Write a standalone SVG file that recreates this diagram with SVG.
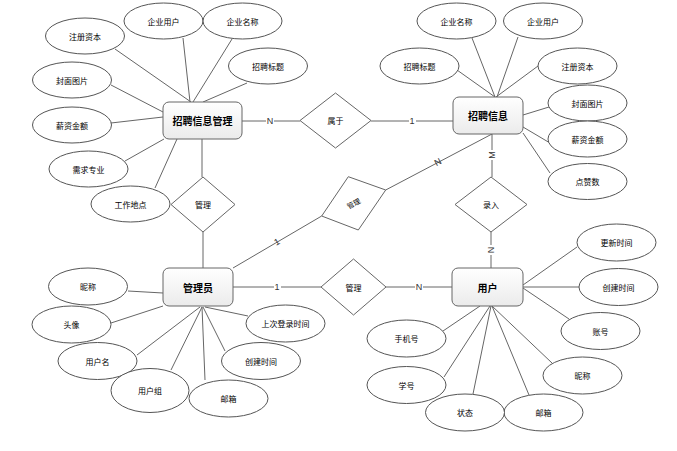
<svg xmlns="http://www.w3.org/2000/svg" width="677" height="451" viewBox="0 0 677 451">
<defs>
<linearGradient id="g" x1="0" y1="0" x2="0" y2="1">
<stop offset="0" stop-color="#ffffff"/>
<stop offset="1" stop-color="#ebebeb"/>
</linearGradient>
<style>
.e{fill:#fff;stroke:#555;stroke-width:1}
.r{fill:url(#g);stroke:#666;stroke-width:1}
.d{fill:#fff;stroke:#666;stroke-width:1}
.c line{stroke:#666;stroke-width:1}
.t{font-family:"Noto Sans CJK SC","Noto Sans",sans-serif;font-size:8px;fill:#000;text-anchor:middle;dominant-baseline:central}
.tb{font-family:"Noto Sans CJK SC","Noto Sans",sans-serif;font-size:10px;font-weight:bold;fill:#000;text-anchor:middle;dominant-baseline:central}
.l{font-family:"Liberation Sans",Arial,sans-serif;font-size:9px;fill:#333;text-anchor:middle;dominant-baseline:central}
.lb{fill:#fff}
</style>
</defs>
<rect width="677" height="451" fill="#fff"/>

<g id="connectors" class="c">
<!-- 招聘信息管理 attrs -->
<line x1="115" y1="49" x2="191" y2="102"/>
<line x1="183" y1="38" x2="190" y2="102"/>
<line x1="232" y1="39" x2="193" y2="102"/>
<line x1="247" y1="83" x2="203" y2="102"/>
<line x1="111" y1="85" x2="163" y2="112"/>
<line x1="111" y1="123" x2="163" y2="117"/>
<line x1="125" y1="161" x2="164" y2="139"/>
<line x1="155" y1="188" x2="177" y2="139"/>
<line x1="202" y1="139" x2="202" y2="177"/>
<line x1="203" y1="232" x2="203" y2="268"/>
<line x1="242" y1="121" x2="300" y2="121"/>
<line x1="371" y1="121" x2="453" y2="121"/>
<!-- 招聘信息 attrs -->
<line x1="457" y1="70" x2="495" y2="97"/>
<line x1="472" y1="38" x2="495" y2="97"/>
<line x1="518" y1="37" x2="497" y2="97"/>
<line x1="538" y1="66" x2="496" y2="97"/>
<line x1="523" y1="115" x2="549" y2="107"/>
<line x1="523" y1="127" x2="550" y2="143"/>
<line x1="523" y1="133" x2="550" y2="173"/>
<line x1="492" y1="134" x2="492" y2="177"/>
<line x1="491" y1="232" x2="491" y2="268"/>
<line x1="492" y1="134" x2="385.7" y2="190"/>
<line x1="321.7" y1="216" x2="233" y2="268"/>
<!-- 管理员 attrs -->
<line x1="233" y1="287" x2="321" y2="287"/>
<line x1="386" y1="287" x2="452" y2="287"/>
<line x1="128" y1="291" x2="163" y2="293"/>
<line x1="111" y1="323" x2="163" y2="306"/>
<line x1="137" y1="355" x2="200" y2="307"/>
<line x1="171" y1="370" x2="202" y2="307"/>
<line x1="205" y1="380" x2="202" y2="307"/>
<line x1="225" y1="351" x2="203" y2="307"/>
<line x1="248" y1="316" x2="205" y2="307"/>
<!-- 用户 attrs -->
<line x1="577" y1="247" x2="523" y2="285"/>
<line x1="579" y1="287" x2="523" y2="287"/>
<line x1="569" y1="319" x2="523" y2="288"/>
<line x1="552" y1="363" x2="492" y2="306"/>
<line x1="529" y1="395" x2="492" y2="306"/>
<line x1="473" y1="394" x2="491" y2="306"/>
<line x1="444" y1="377" x2="490" y2="306"/>
<line x1="443" y1="331" x2="480" y2="306"/>
<!-- labels -->
<rect class="lb" x="266" y="115" width="8" height="11"/>
<text class="l" x="270" y="120.5">N</text>
<rect class="lb" x="409" y="115" width="7" height="11"/>
<text class="l" x="412" y="121">1</text>
<rect class="lb" x="487" y="150" width="10" height="10"/>
<text class="l" transform="translate(492 155) rotate(-90)">M</text>
<rect class="lb" x="486" y="245" width="10" height="10"/>
<text class="l" transform="translate(491 250) rotate(-90)">N</text>
<text class="l" transform="translate(438 162) rotate(-29)">N</text>
<text class="l" transform="translate(277 242) rotate(-30)">1</text>
<rect class="lb" x="274" y="281" width="7" height="11"/>
<text class="l" x="277" y="287">1</text>
<rect class="lb" x="415" y="281" width="8" height="11"/>
<text class="l" x="419" y="287">N</text>
</g>

<!-- entities -->
<g id="zpxxgl"><rect class="r" x="163" y="102" width="79" height="37" rx="6"/><text class="tb" x="202.5" y="120.5">招聘信息管理</text></g>
<g id="zpxx"><rect class="r" x="453" y="97" width="70" height="37" rx="6"/><text class="tb" x="488" y="115.5">招聘信息</text></g>
<g id="gly"><rect class="r" x="163" y="268" width="70" height="38" rx="6"/><text class="tb" x="198" y="287">管理员</text></g>
<g id="yh"><rect class="r" x="452" y="268" width="71" height="38" rx="6"/><text class="tb" x="487.5" y="287">用户</text></g>

<!-- relationships -->
<g id="rel-shuyu"><polygon class="d" points="300,120.5 335.5,93 371,120.5 335.5,148"/><text class="t" x="335.5" y="120.5">属于</text></g>
<g id="rel-guanli1"><polygon class="d" points="171,204.5 203,177 235,204.5 203,232"/><text class="t" x="203" y="204.5">管理</text></g>
<g id="rel-luru"><polygon class="d" points="455,204.5 491,177 527,204.5 491,232"/><text class="t" x="491" y="204.5">录入</text></g>
<g id="rel-guanli2"><polygon class="d" points="348.3,176.7 385.7,190 358.3,230 321.7,216"/><text class="t" style="font-size:7px" transform="translate(353.5 203.3) rotate(-29)">管理</text></g>
<g id="rel-guanli3"><polygon class="d" points="321,287 353.5,259 386,287 353.5,315"/><text class="t" x="353.5" y="287">管理</text></g>

<!-- 招聘信息管理 attributes -->
<g id="a1"><ellipse class="e" cx="85" cy="36" rx="39.5" ry="18"/><text class="t" x="85" y="36">注册资本</text></g>
<g id="a2"><ellipse class="e" cx="163.5" cy="21" rx="39.5" ry="18"/><text class="t" x="163.5" y="21">企业用户</text></g>
<g id="a3"><ellipse class="e" cx="242.5" cy="21" rx="39.5" ry="18"/><text class="t" x="242.5" y="21">企业名称</text></g>
<g id="a4"><ellipse class="e" cx="268" cy="66" rx="39.5" ry="18"/><text class="t" x="268" y="66">招聘标题</text></g>
<g id="a5"><ellipse class="e" cx="72" cy="80" rx="39.5" ry="18"/><text class="t" x="72" y="80">封面图片</text></g>
<g id="a6"><ellipse class="e" cx="72" cy="125" rx="39.5" ry="18"/><text class="t" x="72" y="125">薪资金额</text></g>
<g id="a7"><ellipse class="e" cx="88.5" cy="169" rx="39.5" ry="18"/><text class="t" x="88.5" y="169">需求专业</text></g>
<g id="a8"><ellipse class="e" cx="130.5" cy="204" rx="39.5" ry="18"/><text class="t" x="130.5" y="204">工作地点</text></g>

<!-- 招聘信息 attributes -->
<g id="b1"><ellipse class="e" cx="456.5" cy="21" rx="39.5" ry="18"/><text class="t" x="456.5" y="21">企业名称</text></g>
<g id="b2"><ellipse class="e" cx="543" cy="21" rx="39.5" ry="18"/><text class="t" x="543" y="21">企业用户</text></g>
<g id="b3"><ellipse class="e" cx="419.5" cy="66" rx="39.5" ry="18"/><text class="t" x="419.5" y="66">招聘标题</text></g>
<g id="b4"><ellipse class="e" cx="577.5" cy="66" rx="39.5" ry="18"/><text class="t" x="577.5" y="66">注册资本</text></g>
<g id="b5"><ellipse class="e" cx="587.5" cy="103" rx="39.5" ry="18"/><text class="t" x="587.5" y="103">封面图片</text></g>
<g id="b6"><ellipse class="e" cx="587.5" cy="139" rx="39.5" ry="18"/><text class="t" x="587.5" y="139">薪资金额</text></g>
<g id="b7"><ellipse class="e" cx="587.5" cy="181.5" rx="39.5" ry="18"/><text class="t" x="587.5" y="181.5">点赞数</text></g>

<!-- 管理员 attributes -->
<g id="c1"><ellipse class="e" cx="88" cy="286.5" rx="39.5" ry="18.5"/><text class="t" x="88" y="286.5">昵称</text></g>
<g id="c2"><ellipse class="e" cx="71.5" cy="324.5" rx="39.5" ry="18.5"/><text class="t" x="71.5" y="324.5">头像</text></g>
<g id="c3"><ellipse class="e" cx="97.5" cy="361" rx="39.5" ry="18.5"/><text class="t" x="97.5" y="361">用户名</text></g>
<g id="c4"><ellipse class="e" cx="150" cy="390.5" rx="39" ry="22"/><text class="t" x="150" y="390.5">用户组</text></g>
<g id="c5"><ellipse class="e" cx="228.5" cy="398.5" rx="39.5" ry="18.5"/><text class="t" x="228.5" y="398.5">邮箱</text></g>
<g id="c6"><ellipse class="e" cx="261" cy="361" rx="39.5" ry="18.5"/><text class="t" x="261" y="361">创建时间</text></g>
<g id="c7"><ellipse class="e" cx="285.5" cy="323.5" rx="39.5" ry="18.5"/><text class="t" x="285.5" y="323.5">上次登录时间</text></g>

<!-- 用户 attributes -->
<g id="d1"><ellipse class="e" cx="616.5" cy="242.5" rx="39.5" ry="18.5"/><text class="t" x="616.5" y="242.5">更新时间</text></g>
<g id="d2"><ellipse class="e" cx="618.5" cy="287" rx="39.5" ry="18.5"/><text class="t" x="618.5" y="287">创建时间</text></g>
<g id="d3"><ellipse class="e" cx="600.5" cy="331" rx="39.5" ry="18.5"/><text class="t" x="600.5" y="331">账号</text></g>
<g id="d4"><ellipse class="e" cx="582.5" cy="375.5" rx="39.5" ry="18.5"/><text class="t" x="582.5" y="375.5">昵称</text></g>
<g id="d5"><ellipse class="e" cx="543.5" cy="412.5" rx="39.5" ry="18.5"/><text class="t" x="543.5" y="412.5">邮箱</text></g>
<g id="d6"><ellipse class="e" cx="465" cy="412.5" rx="39.5" ry="18.5"/><text class="t" x="465" y="412.5">状态</text></g>
<g id="d7"><ellipse class="e" cx="406.5" cy="385" rx="39.5" ry="18.5"/><text class="t" x="406.5" y="385">学号</text></g>
<g id="d8"><ellipse class="e" cx="406.5" cy="338.5" rx="39.5" ry="18.5"/><text class="t" x="406.5" y="338.5">手机号</text></g>
</svg>
